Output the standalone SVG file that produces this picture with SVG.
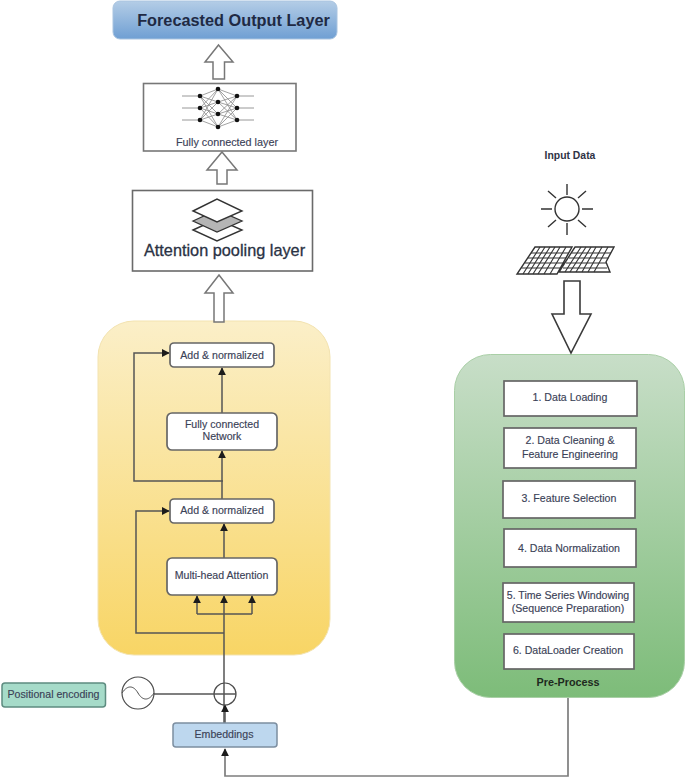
<svg xmlns="http://www.w3.org/2000/svg" width="685" height="778" viewBox="0 0 685 778">
<style>
text{font-family:"Liberation Sans",Arial,sans-serif;fill:#3b4257;text-anchor:middle;font-size:10.600px;stroke:#3b4257;stroke-width:.15}
.bx{fill:#fff;stroke:#666;stroke-width:1.7}
.arr{fill:#fff;stroke:#777;stroke-width:1.5}
.dk{fill:#fff;stroke:#3a3a3a;stroke-width:1.600}
.ln{fill:none;stroke:#555;stroke-width:1.500}
.ic{fill:none;stroke:#333;stroke-width:1.400}
.net{stroke:#8a8a8a;stroke-width:.8;fill:none}
</style>
<defs>
<linearGradient id="gB" x1="0" y1="0" x2="0" y2="1"><stop offset="0" stop-color="#b4cde6"/><stop offset="1" stop-color="#6f9fd3"/></linearGradient>
<linearGradient id="gY" x1="0" y1="0" x2="0" y2="1"><stop offset="0" stop-color="#fbefc8"/><stop offset="1" stop-color="#f8d565"/></linearGradient>
<linearGradient id="gG" x1="0" y1="0" x2="0" y2="1"><stop offset="0" stop-color="#c8dec8"/><stop offset="1" stop-color="#7dbc79"/></linearGradient>
<marker id="ah" viewBox="0 0 10 10" refX="9" refY="5" markerWidth="8" markerHeight="8" markerUnits="userSpaceOnUse" orient="auto"><path d="M0 0L10 5L0 10Z" fill="#1c1c1c"/></marker>
</defs>

<g id="yellow-panel"><rect x="98" y="321" width="232" height="334" rx="36" fill="url(#gY)" stroke="#f3e3b0"/></g>
<g id="green-panel"><rect x="454.500" y="354.500" width="230" height="343" rx="36" fill="url(#gG)" stroke="#a9cfa6"/></g>

<g id="connectors">
<path class="ln" d="M222 413V368" marker-end="url(#ah)"/>
<path class="ln" d="M222 499V451" marker-end="url(#ah)"/>
<path class="ln" d="M224 558V524" marker-end="url(#ah)"/>
<path class="ln" d="M223 481H134V353H169" marker-end="url(#ah)"/>
<path class="ln" d="M224 633H136V511H169" marker-end="url(#ah)"/>
<path class="ln" d="M224 723V596" marker-end="url(#ah)"/>
<path class="ln" d="M197 614V596" marker-end="url(#ah)"/>
<path class="ln" d="M252 614V596" marker-end="url(#ah)"/>
<path class="ln" d="M197 614H252"/>
<path class="ln" d="M154 694H236"/>
<path class="ln" d="M225 723V705" marker-end="url(#ah)"/>
<path d="M568 698V776H225V749" fill="none" stroke="#7d7d7d" stroke-width="1.700" marker-end="url(#ah)"/>
<path class="arr" d="M218.500 45L233 62H224.500V79H213V62H205Z"/>
<path class="arr" d="M222 152L237 170H227V184H217V170H207Z"/>
<path class="arr" d="M219 275L233 293H224V322H214V293H205Z"/>
<path class="dk" d="M564 281H580V314H591L571 353L552 314H564Z"/>
</g>

<g id="output-layer"><rect x="113" y="1" width="224" height="38" rx="7" fill="url(#gB)" stroke="#a9c4e0"/>
<text x="233.500" y="25.500" style="font-size:16.300px;font-weight:700;fill:#1f2a44;stroke:none">Forecasted Output Layer</text></g>

<g id="fc-layer"><rect x="143.500" y="83.500" width="152.500" height="67.500" fill="#fff" stroke="#777" stroke-width="1.600"/>
<path class="net" d="M200 96L218 89M200 96L218 102M200 96L218 114M200 96L218 127M200 108L218 89M200 108L218 102M200 108L218 114M200 108L218 127M200 120L218 89M200 120L218 102M200 120L218 114M200 120L218 127M237 96L218 89M237 96L218 102M237 96L218 114M237 96L218 127M237 108L218 89M237 108L218 102M237 108L218 114M237 108L218 127M237 120L218 89M237 120L218 102M237 120L218 114M237 120L218 127"/>
<path d="M182 96H200M182 108H200M182 120H200M237 96H254M237 108H254M237 120H254" stroke="#8c8c8c" stroke-width=".9" fill="none"/>
<g fill="#111"><circle cx="200" cy="96" r="2.300"/><circle cx="200" cy="108" r="2.300"/><circle cx="200" cy="120" r="2.300"/><circle cx="218" cy="89" r="2.300"/><circle cx="218" cy="102" r="2.300"/><circle cx="218" cy="114" r="2.300"/><circle cx="218" cy="127" r="2.300"/><circle cx="237" cy="96" r="2.300"/><circle cx="237" cy="108" r="2.300"/><circle cx="237" cy="120" r="2.300"/></g>
<text x="227" y="145.500" style="font-size:10.800px">Fully connected layer</text></g>

<g id="attention-layer"><rect x="132.500" y="190.500" width="180" height="80.500" fill="#fff" stroke="#6a6a6a" stroke-width="1.600"/>
<path class="ic" d="M193 230L217 219L242 230L217 241Z"/>
<path d="M193 221L217 210L242 221L217 232Z" fill="#b5b5b5" stroke="#333" stroke-width="1.300"/>
<path d="M193 211L217 199L242 211L217 222Z" fill="#fff" stroke="#333" stroke-width="1.400"/>
<text x="224.500" y="256" style="font-size:16.300px;fill:#2a3244;stroke:#2a3244;stroke-width:.3">Attention pooling layer</text></g>

<g id="add-norm-top"><rect class="bx" x="170" y="343" width="104" height="24" rx="4"/><text x="222" y="358.500">Add &amp; normalized</text></g>
<g id="fc-network"><rect class="bx" x="167" y="413" width="110" height="37" rx="5"/><text x="222" y="428">Fully connected</text><text x="222" y="440">Network</text></g>
<g id="add-norm-low"><rect class="bx" x="170" y="499" width="104" height="24" rx="4"/><text x="222" y="514">Add &amp; normalized</text></g>
<g id="multi-head"><rect class="bx" x="167" y="558" width="110" height="37" rx="5"/><text x="221.500" y="578.500">Multi-head Attention</text></g>

<g id="positional"><rect x="2" y="683" width="103.500" height="24" rx="3" fill="#a6dbc9" stroke="#5e8c80" stroke-width="1.500"/><text x="53.500" y="698">Positional encoding</text></g>
<g id="sine"><circle cx="138" cy="693" r="16" fill="none" stroke="#4c4c4c" stroke-width="1.200"/><path d="M122 693C128 684 134 686 138 693S148 702 154 693" fill="none" stroke="#4c4c4c" stroke-width="1"/></g>
<g id="plus"><circle cx="225" cy="694" r="11" fill="none" stroke="#4c4c4c" stroke-width="1.200"/></g>
<g id="embeddings"><rect x="173" y="723" width="104" height="24" rx="3" fill="#bdd7ee" stroke="#7c8ea0" stroke-width="1.500"/><text x="224" y="738">Embeddings</text></g>

<g id="input-data"><text x="570" y="158.500" style="font-size:10.400px;font-weight:700;fill:#2f3345;stroke:none">Input Data</text>
<circle class="ic" cx="567" cy="209" r="12"/>
<path class="ic" d="M567 184V195M567 223V235M541 209H552M582 209H593M548 191L556 198M586 191L578 198M548 227L556 220M586 227L578 220"/>
<g class="ic"><path d="M535 247H572L557 274H517ZM575 247H614L606 262L610 272H559Z"/>
<path d="M531 253H568.500M528 258H566M525 263H563M521.500 268H560M571.500 253H611M569 258H608.500M566 263H606M563 268H607" stroke-width="1.100"/>
<path d="M540 247L523 274M545 247L528 274M550 247L533 274M555 247L538 274M560 247L544 274M566 247L550 274M581 247L565 272M586 247L570 272M591 247L576 272M596 247L582 272M602 247L588 272M608 247L594 272" stroke-width="1.100"/></g></g>

<g id="step1"><rect class="bx" x="504" y="381" width="133" height="35"/><text x="570" y="400.500">1. Data Loading</text></g>
<g id="step2"><rect class="bx" x="504" y="428" width="132" height="40"/><text x="570" y="444">2. Data Cleaning &amp;</text><text x="570" y="457.500">Feature Engineering</text></g>
<g id="step3"><rect class="bx" x="503" y="481" width="132" height="37"/><text x="569" y="501.500">3. Feature Selection</text></g>
<g id="step4"><rect class="bx" x="504" y="529" width="132" height="38"/><text x="569" y="551.500">4. Data Normalization</text></g>
<g id="step5"><rect class="bx" x="503" y="583" width="131" height="39"/><text x="568" y="598.500">5. Time Series Windowing</text><text x="568" y="612">(Sequence Preparation)</text></g>
<g id="step6"><rect class="bx" x="504" y="634" width="130" height="35"/><text x="568" y="653.500">6. DataLoader Creation</text></g>
<text x="568" y="685.500" style="font-size:10.800px;font-weight:700;fill:#1e2a20;stroke:none">Pre-Process</text>
</svg>
